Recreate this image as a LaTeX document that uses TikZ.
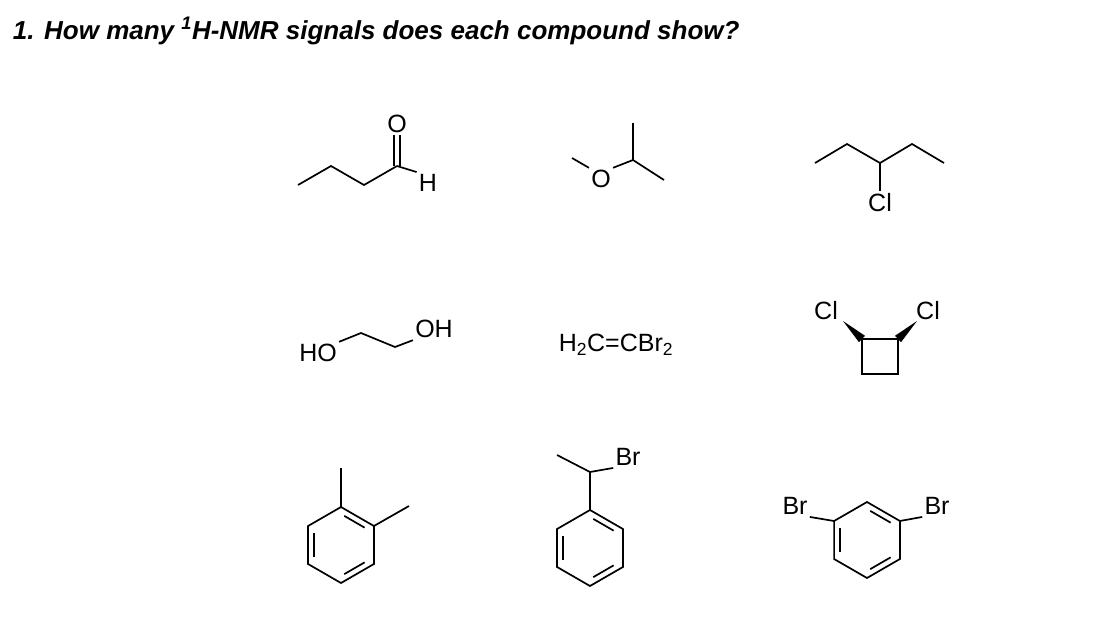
\documentclass[tikz,border=0pt]{standalone}
\usepackage{fontspec}
\setmainfont{Liberation Sans}
\usetikzlibrary{calc}
\begin{document}
\begin{tikzpicture}[x=1pt,y=-1pt,line width=1.7pt,
  lbl/.style={inner sep=1.5pt,font=\fontsize{25}{25}\selectfont},
  wedge/.style={fill=black,draw=none}]
\useasboundingbox (0,0) rectangle (1098,627);
\node[anchor=base west,inner sep=0pt,font=\fontsize{26}{26}\selectfont\bfseries\itshape] (title) at (12,39) {1. How many \textsuperscript{1}H-NMR signals does each compound show?};
% butanal
\coordinate (a1) at (298,185); \coordinate (a2) at (331,166); \coordinate (a3) at (364,185); \coordinate (a4) at (397,166);
\node[lbl] (aO) at (397,124) {O};
\node[lbl] (aH) at (428,183) {H};
\draw (a1)--(a2)--(a3)--(a4);
\draw ($(a4)+(-3,0)$) -- ($(aO.south)+(-3,0)$); \draw ($(a4)+(3,0)$) -- ($(aO.south)+(3,0)$);
\draw (a4) -- (aH.north west);
% ether
\coordinate (b1) at (572,158); \coordinate (b3) at (633,160); \coordinate (b4) at (633,123); \coordinate (b5) at (664,180);
\node[lbl] (bO) at (601,179) {O};
\draw (b1)--(bO.north west); \draw (bO.north east)--(b3)--(b4); \draw (b3)--(b5);
% 3-chloropentane
\coordinate (c1) at (815,163); \coordinate (c2) at (847,144); \coordinate (c3) at (880,163); \coordinate (c4) at (912,144); \coordinate (c5) at (944,163);
\node[lbl] (cCl) at (880,203) {Cl};
\draw (c1)--(c2)--(c3)--(c4)--(c5); \draw (c3)--(cCl.north);
% ethylene glycol
\node[lbl] (dHO) at (318,353) {HO};
\node[lbl] (dOH) at (434,329) {OH};
\coordinate (d2) at (361,333); \coordinate (d3) at (395,347);
\draw (dHO.north east)--(d2)--(d3)--(dOH.south west);
% H2C=CBr2
\node[lbl] (e) at (616,345) {H\textsubscript{2}C=CBr\textsubscript{2}};
% cyclobutane
\coordinate (f1) at (862,339); \coordinate (f2) at (898,339); \coordinate (f3) at (898,374); \coordinate (f4) at (862,374);
\draw (f1)--(f2)--(f3)--(f4)--cycle;
\node[lbl] (fCl1) at (826,311) {Cl};
\node[lbl] (fCl2) at (928,311) {Cl};
\coordinate (w1) at (843,321); \coordinate (w2) at (917,321);
\fill[wedge] (w1) -- ($(f1)+(3,-3.2)$) -- ($(f1)+(-3,3.2)$) -- cycle;
\fill[wedge] (w2) -- ($(f2)+(3,3.2)$) -- ($(f2)+(-3,-3.2)$) -- cycle;
% rings
\foreach \n/\cx/\cy in {g/341/545,h/590/548,k/867/540}{
  \foreach \i/\ang in {1/90,2/30,3/-30,4/-90,5/-150,6/150}{
    \coordinate (\n\i) at ($(\cx,\cy)+({38*cos(\ang)},{-38*sin(\ang)})$);
    \coordinate (\n i\i) at ($(\cx,\cy)+({31*cos(\ang)},{-31*sin(\ang)})$);
  }
  \draw (\n1)--(\n2)--(\n3)--(\n4)--(\n5)--(\n6)--cycle;
  \draw ($(\n i1)!0.12!(\n i2)$)--($(\n i1)!0.88!(\n i2)$);
  \draw ($(\n i3)!0.12!(\n i4)$)--($(\n i3)!0.88!(\n i4)$);
  \draw ($(\n i5)!0.12!(\n i6)$)--($(\n i5)!0.88!(\n i6)$);
}
\coordinate (gm1) at (341,468); \coordinate (gm2) at (409,506);
\draw (g1)--(gm1); \draw (g2)--(gm2);
\coordinate (hc) at (590,472); \coordinate (hm) at (557,455);
\node[lbl] (hBr) at (628,457) {Br};
\draw (h1)--(hc)--(hm); \draw (hc)--(hBr.south west);
\node[lbl] (kBr1) at (795,506) {Br};
\node[lbl] (kBr2) at (937,506) {Br};
\draw (k6)--(kBr1.south east); \draw (k2)--(kBr2.south west);
\end{tikzpicture}
\end{document}
